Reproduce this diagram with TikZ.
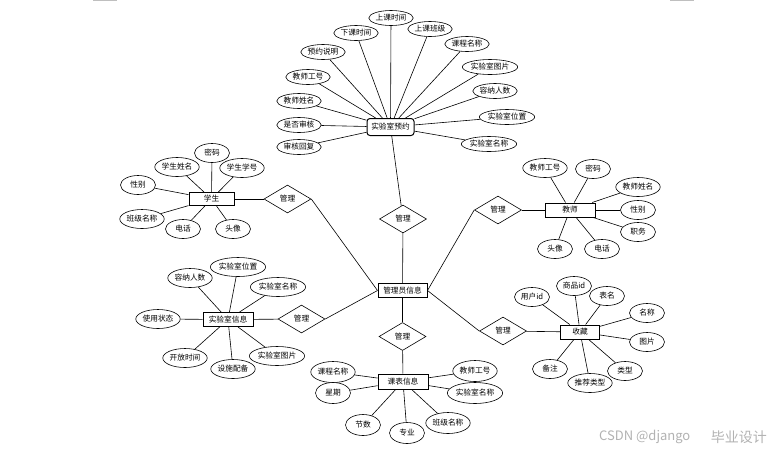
\documentclass[tikz,border=0pt]{standalone}
\usepackage{fontspec}
\setmainfont{Noto Sans CJK SC}
\usetikzlibrary{shapes.geometric}
\begin{document}
\begin{tikzpicture}[x=1pt,y=-1pt,
  every node/.style={font=\fontsize{7.7}{8}\selectfont},
  attr/.style={ellipse,draw,line width=0.6pt,fill=white,inner xsep=0.3pt,inner ysep=0pt,minimum width=35pt,minimum height=19pt},
  attrs/.style={attr,minimum height=15pt,minimum width=42pt},
  attrc/.style={attr,minimum height=21pt},
  ent/.style={rectangle,draw,line width=1pt,fill=white,minimum height=14pt,inner sep=1pt},
  rel/.style={diamond,draw,line width=0.6pt,fill=white,minimum width=47pt,minimum height=28pt,inner sep=0pt},
  conn/.style={line width=0.6pt},
  edgemark/.style={draw=gray!50,line width=1pt},
  wm/.style={text=gray!60,inner sep=0pt}]
\useasboundingbox (0,0) rectangle (771,451);
% faint marks at top edge
\coordinate (m1) at (93,0.5); \coordinate (m2) at (117,0.5);
\coordinate (m3) at (670,0.5); \coordinate (m4) at (694,0.5);
\draw[edgemark] (m1) -- (m2);
\draw[edgemark] (m3) -- (m4);

% central entity and relationships
\node[ent,minimum width=49pt] (adm) at (402.5,290.5) {管理员信息};
\node[rel] (r1) at (403,219) {管理};
\node[rel] (r2) at (402.5,336.5) {管理};
\node[rel] (r3) at (287.5,199) {管理};
\node[rel] (r4) at (498,210) {管理};
\node[rel] (r5) at (301.5,319) {管理};
\node[rel] (r6) at (503,331) {管理};

% lab reservation
\node[ent,rounded corners=3pt,minimum width=47pt,minimum height=17pt] (yy) at (390.5,127) {实验室预约};
\node[attrs] (t1) at (391,18) {上课时间};
\node[attrs] (t2) at (356,33) {下课时间};
\node[attrs] (t3) at (430,29) {上课班级};
\node[attrs] (t4) at (467,44) {课程名称};
\node[attrs] (t5) at (323,52) {预约说明};
\node[attrs] (t6) at (490,67) {实验室图片};
\node[attrs] (t7) at (308,77) {教师工号};
\node[attrs] (t8) at (495,91) {容纳人数};
\node[attrs] (t9) at (299,101) {教师姓名};
\node[attrs] (t10) at (507,117) {实验室位置};
\node[attrs] (t11) at (299,125) {是否审核};
\node[attrs] (t12) at (489,144) {实验室名称};
\node[attrs] (t13) at (299,147) {审核回复};
\foreach \i in {1,...,13} {\draw[conn] (t\i) -- (yy);}

% student
\node[ent,minimum width=45pt,minimum height=13pt] (st) at (211.5,199) {学生};
\node[attr] (s1) at (212,153) {密码};
\node[attr] (s2) at (177,167) {学生姓名};
\node[attr] (s3) at (242,168) {学生学号};
\node[attr] (s4) at (138,185) {性别};
\node[attr] (s5) at (142,219) {班级名称};
\node[attr] (s6) at (183,229) {电话};
\node[attr] (s7) at (233,229) {头像};
\foreach \i in {1,...,7} {\draw[conn] (s\i) -- (st);}

% teacher
\node[ent,minimum width=50pt] (te) at (570,210) {教师};
\node[attr] (e1) at (545,168) {教师工号};
\node[attr] (e2) at (593,169) {密码};
\node[attr] (e3) at (638,187) {教师姓名};
\node[attr] (e4) at (638,210) {性别};
\node[attr] (e5) at (638,232) {职务};
\node[attr] (e6) at (555,249) {头像};
\node[attr] (e7) at (602,249) {电话};
\foreach \i in {1,...,7} {\draw[conn] (e\i) -- (te);}

% lab info
\node[ent,minimum width=50pt] (lab) at (228,319.5) {实验室信息};
\node[attr] (l1) at (190,278) {容纳人数};
\node[attr] (l2) at (238,267) {实验室位置};
\node[attr] (l3) at (278,287) {实验室名称};
\node[attr] (l4) at (158,319) {使用状态};
\node[attr] (l5) at (185,358) {开放时间};
\node[attr] (l6) at (233,369) {设施配备};
\node[attr] (l7) at (277,356) {实验室图片};
\foreach \i in {1,...,7} {\draw[conn] (l\i) -- (lab);}

% favourites
\node[ent,minimum width=39pt] (fav) at (580,332) {收藏};
\node[attr] (f1) at (532,297) {用户id};
\node[attr] (f2) at (574,286) {商品id};
\node[attr] (f3) at (607,296) {表名};
\node[attr] (f4) at (647,313) {名称};
\node[attr] (f5) at (647,342) {图片};
\node[attr] (f6) at (550,369) {备注};
\node[attr] (f7) at (590,383) {推荐类型};
\node[attr] (f8) at (625,371) {类型};
\foreach \i in {1,...,8} {\draw[conn] (f\i) -- (fav);}

% course schedule
\node[ent,minimum width=50pt,minimum height=15pt] (kb) at (403,381.5) {课表信息};
\node[attrc] (k1) at (333,372) {课程名称};
\node[attrc] (k2) at (333,393) {星期};
\node[attrc] (k3) at (475,371) {教师工号};
\node[attrc] (k4) at (475,393) {实验室名称};
\node[attrc] (k5) at (363,425) {节数};
\node[attrc] (k6) at (407,433) {专业};
\node[attrc] (k7) at (448,423) {班级名称};
\foreach \i in {1,...,7} {\draw[conn] (k\i) -- (kb);}

% relationship connectors
\draw[conn] (yy) -- (r1);
\draw[conn] (r1) -- (adm);
\draw[conn] (adm) -- (r2);
\draw[conn] (r2) -- (kb);
\draw[conn] (st) -- (r3);
\draw[conn] (r3.east) -- (adm.west);
\draw[conn] (te) -- (r4);
\draw[conn] (r4.west) -- (adm.east);
\draw[conn] (lab) -- (r5);
\draw[conn] (r5.east) -- (adm.west);
\draw[conn] (fav) -- (r6);
\draw[conn] (r6.west) -- (adm.east);

% watermark
\node[wm,font=\fontsize{13}{13}\selectfont,anchor=west] (wm1) at (599,437) {CSDN @django};
\node[wm,font=\fontsize{14}{14}\selectfont,anchor=east] (wm2) at (767,437) {毕业设计};
\end{tikzpicture}
\end{document}
